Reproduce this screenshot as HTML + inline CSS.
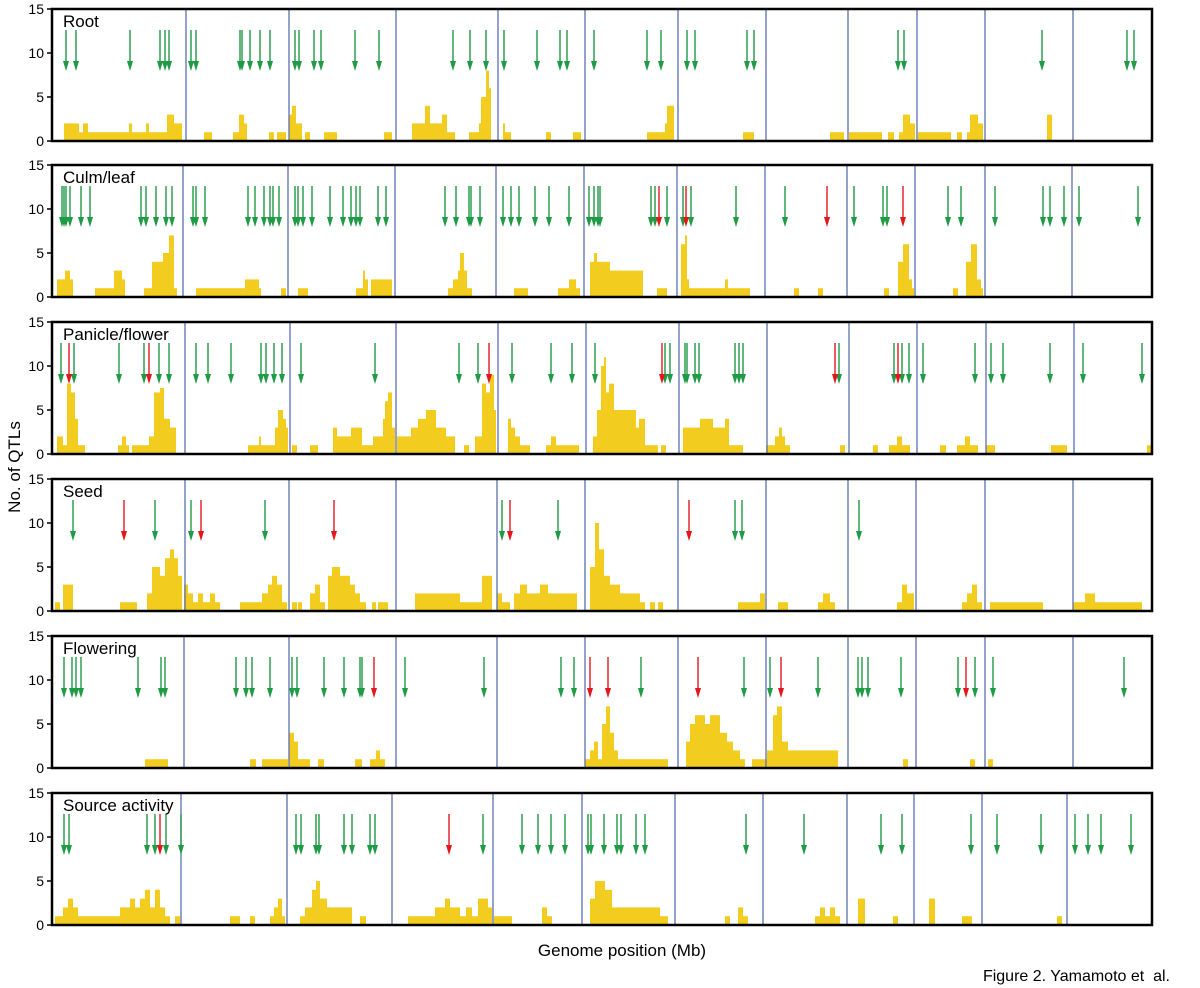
<!DOCTYPE html>
<html><head><meta charset="utf-8"><title>QTL distribution</title>
<style>
html,body{margin:0;padding:0;background:#fff;}
body{width:1200px;height:988px;overflow:hidden;font-family:"Liberation Sans",sans-serif;}
svg{display:block;}
text{font-family:"Liberation Sans",sans-serif;fill:#000;}
</style></head>
<body>
<svg id="chart" width="1200" height="988" xmlns="http://www.w3.org/2000/svg"></svg>
<script>
// ---- data (genome position units, QTL counts) ----
const panelTitles = ["Root","Culm/leaf","Panicle/flower","Seed","Flowering","Source activity"];
const yTicks = [0,5,10,15];
const yTickLabels = ["0","5","10","15"];

const chromBoundsRoot = [186,289,396,498,585,678,766,848,917,985,1073];
const chromBoundsCulm = [183,288,395,496,584,677,765,847,915,985,1072];
const chromBoundsPanicle = [185,290,396,498,586,679,767,849,917,986,1074];
const chromBoundsSeed = [185,289,396,497,585,678,766,848,916,985,1073];
const chromBoundsFlowering = [184,289,396,497,585,678,766,848,916,985,1073];
const chromBoundsSource = [181,287,392,493,582,675,763,847,914,982,1067];

const binsRoot = [[64,79,2],[79,83,1],[83,88,2],[88,129,1],[129,132,2],[132,146,1],[146,149,2],[149,167,1],[167,174,3],[174,182,2],
[204,212,1],[233,239,1],[239,244,3],[244,247,2],[269,274,1],[277,286,1],[289,292,3],[292,296,4],[296,302,2],[305,310,1],[324,337,1],[384,392,1],
[412,425,2],[425,430,4],[430,442,2],[442,447,3],[447,455,1],[469,479,1],[479,481,2],[481,486,5],[486,489,8],[489,491,6],
[503,505,2],[505,511,1],[546,551,1],[573,581,1],[647,665,1],[665,667,2],[667,674,4],[743,754,1],[830,844,1],[849,882,1],[888,894,1],
[899,903,1],[903,910,3],[910,915,2],[918,951,1],[957,962,1],[967,970,1],[970,978,3],[978,983,2],[1047,1052,3]];
const binsCulm = [[57,65,2],[65,70,3],[70,73,2],[95,114,1],[114,122,3],[122,125,2],[144,152,1],[152,163,4],[163,169,5],[169,174,7],[174,177,1],
[196,245,1],[245,259,2],[259,261,1],[281,286,1],[298,308,1],[356,363,1],[363,365,3],[365,368,2],[371,392,2],
[448,453,1],[453,458,2],[458,460,3],[460,464,5],[464,467,3],[467,472,1],[514,528,1],[558,569,1],[569,576,2],[576,580,1],
[590,594,4],[594,597,5],[597,602,4],[602,610,4],[610,643,3],[657,667,1],[681,685,6],[685,687,7],[687,689,2],[689,725,1],[725,728,2],[728,750,1],
[794,799,1],[818,823,1],[884,889,1],[898,903,4],[903,909,6],[909,912,2],[912,914,1],[953,958,1],[966,971,4],[971,977,6],[977,981,2],[981,983,1]];
const binsPanicle = [[57,63,2],[63,67,1],[67,71,8],[71,75,7],[75,78,4],[78,82,1],[82,85,1],[118,122,1],[122,126,2],[126,129,1],[132,149,1],[149,154,2],[154,160,7],[160,164,7.5],[164,170,4],[170,176,3],
[248,259,1],[259,261,2],[261,275,1],[275,278,3],[278,283,5],[283,286,4],[286,288,3],
[292,297,1],[310,318,1],[333,337,3],[337,351,2],[351,362,3],[362,373,1],[373,383,2],[383,385,4],[385,388,6],[388,392,7],[392,395,3],
[397,411,2],[411,418,3],[418,426,4],[426,436,5],[436,446,3],[446,455,2],[464,469,1],[475,482,2],[482,486,8],[486,490,7],[490,494,9],[494,496,5],
[508,511,4],[511,515,3],[515,520,2],[520,530,1],[546,551,1],[551,556,2],[556,579,1],[593,597,2],[597,601,5],[601,604,10],[604,606,11],[606,609,7],[609,614,8],[614,636,5],[636,639,3],[639,645,4],[645,658,1],[661,666,1],
[683,700,3],[700,713,4],[713,725,3],[725,729,4],[729,743,1],[766,775,1],[775,779,2],[779,782,3],[782,785,2],[785,790,1],[840,845,1],[873,878,1],
[889,897,1],[897,902,2],[902,910,1],[940,946,1],[957,965,1],[965,970,2],[970,978,1],[986,995,1],[1051,1067,1],[1147,1152,1]];
const binsSeed = [[55,60,1],[63,73,3],[120,137,1],[147,152,2],[152,160,5],[160,165,4],[165,170,6],[170,174,7],[174,178,6],[178,182,4],
[184,188,3],[188,193,2],[193,198,1],[198,203,2],[203,210,1],[210,215,2],[215,220,1],[240,262,1],[262,268,2],[268,272,3],[272,277,4],[277,282,3],[282,287,1],
[292,297,1],[298,302,1],[310,315,2],[315,320,3],[320,325,1],[328,332,4],[332,340,5],[340,350,4],[350,355,3],[355,360,2],[360,366,1],[372,376,1],[378,388,1],
[415,460,2],[460,482,1],[482,492,4],[497,502,2],[502,510,1],[514,520,2],[520,527,3],[527,540,2],[540,548,3],[548,577,2],
[590,595,5],[595,599,10],[599,604,7],[604,610,4],[610,620,3],[620,640,2],[640,645,1],[650,655,1],[658,663,1],[738,760,1],[760,765,2],[778,788,1],
[818,823,1],[823,830,2],[830,835,1],[897,902,1],[902,907,3],[907,914,2],[962,967,1],[967,972,2],[972,977,3],[977,982,1],[990,1043,1],[1073,1085,1],[1085,1095,2],[1095,1142,1]];
const binsFlowering = [[145,168,1],[250,256,1],[262,288,1],[289,294,4],[294,298,3],[298,305,1],[305,310,1],[318,324,1],[355,362,1],[370,376,1],[376,380,2],[380,385,1],
[585,590,1],[590,594,2],[594,598,3],[598,602,1],[602,606,5],[606,610,7],[610,614,4],[614,618,2],[618,668,1],
[686,690,3],[690,695,5],[695,705,6],[705,710,5],[710,720,6],[720,727,4],[727,733,3],[733,740,2],[740,745,1],[752,767,1],[767,773,2],[773,777,6],[777,782,7],[782,788,3],[788,838,2],
[903,908,1],[970,975,1],[988,993,1]];
const binsSource = [[55,63,1],[63,68,2],[68,73,3],[73,78,2],[78,120,1],[120,130,2],[130,135,3],[135,140,2],[140,145,3],[145,150,4],[150,155,2],[155,160,4],[160,165,2],[165,170,1],[175,180,1],
[230,240,1],[250,255,1],[270,274,1],[274,278,2],[278,282,3],[282,285,1],[300,305,1],[305,312,2],[312,316,4],[316,320,5],[320,327,3],[327,352,2],[360,366,1],
[408,435,1],[435,445,2],[445,450,3],[450,460,2],[460,466,1],[466,472,2],[472,478,1],[478,488,3],[488,492,2],[494,512,1],[542,547,2],[547,552,1],
[590,595,3],[595,605,5],[605,612,4],[612,660,2],[660,668,1],[725,730,1],[738,743,2],[743,748,1],[815,820,1],[820,825,2],[825,830,1],[830,835,2],[835,840,1],
[858,865,3],[893,898,1],[929,935,3],[962,972,1],[1057,1062,1]];

const greenRoot = [66,76,130,160,165,169,191,196,240,242,250,260,270,295,299,314,321,355,379,453,470,486,504,537,560,567,594,647,661,687,695,747,754,898,904,1042,1127,1134];
const redRoot = [];
const greenCulm = [62,64,66,70,81,90,141,146,156,166,172,193,196,205,248,255,264,270,273,279,295,298,303,312,330,343,351,356,360,378,386,445,456,469,471,480,503,511,519,535,549,569,589,594,598,600,651,655,667,683,691,736,785,854,883,887,948,961,995,1043,1050,1064,1079,1138];
const redCulm = [659,686,827,903];
const greenPanicle = [61,74,119,144,159,169,196,208,231,261,266,274,282,301,375,459,478,512,551,572,595,665,670,685,687,695,699,735,739,743,839,894,902,909,923,975,991,1003,1050,1083,1142];
const redPanicle = [69,149,489,662,835,898];
const greenSeed = [73,155,191,265,502,558,735,742,859];
const redSeed = [124,201,334,510,689];
const greenFlowering = [64,72,76,81,138,161,165,236,246,252,270,292,297,324,344,360,362,405,484,561,574,641,744,770,818,858,862,868,901,958,975,993,1124];
const redFlowering = [374,590,608,698,781,966];
const greenSource = [64,69,147,155,166,181,296,301,316,319,344,352,370,375,483,522,538,551,565,588,591,604,617,621,636,645,746,804,881,902,971,997,1041,1075,1088,1101,1131];
const redSource = [160,449];

// ---- layout ----
const NS = "http://www.w3.org/2000/svg";
const svg = document.getElementById("chart");
const X0 = 52, X1 = 1152, D0 = 52, D1 = 1152;
const panelTops = [9,165,322,479,636,793];
const panelH = 132;
const yMax = 15;
function xScale(v){ return X0 + (v - D0) * (X1 - X0) / (D1 - D0); }
function yScale(v, top){ return top + panelH - v * panelH / yMax; }
function mk(tag, attrs, parent){
  const e = document.createElementNS(NS, tag);
  for (const k in attrs) e.setAttribute(k, attrs[k]);
  (parent || svg).appendChild(e);
  return e;
}
const allBins = [binsRoot,binsCulm,binsPanicle,binsSeed,binsFlowering,binsSource];
const allBounds = [chromBoundsRoot,chromBoundsCulm,chromBoundsPanicle,chromBoundsSeed,chromBoundsFlowering,chromBoundsSource];
const allGreen = [greenRoot,greenCulm,greenPanicle,greenSeed,greenFlowering,greenSource];
const allRed = [redRoot,redCulm,redPanicle,redSeed,redFlowering,redSource];

panelTitles.forEach((title, i) => {
  const top = panelTops[i];
  const g = mk("g", {});
  
  
  // bars
  allBins[i].forEach(b => {
    const r = mk("rect", {x: xScale(b[0]), y: yScale(b[2], top), width: Math.max(0.5, xScale(b[1]) - xScale(b[0])), height: yScale(0, top) - yScale(b[2], top), fill: "#f2cd1f"}, g);
    
    
  });
  // chromosome boundaries
  allBounds[i].forEach(c => {
    const l = mk("line", {x1: xScale(c), x2: xScale(c), y1: top, y2: top + panelH, stroke: "#5b6fb0", "stroke-width": 1.3}, g);
    
    
  });
  // arrows
  function arrow(v, color, nm){
    const ax = xScale(v);
    const a = mk("g", {}, g);
    
    
    mk("line", {x1: ax, x2: ax, y1: top + 21, y2: top + 54, stroke: color, "stroke-width": 1.4}, a);
    mk("polygon", {points: (ax-3)+","+(top+52)+" "+(ax+3)+","+(top+52)+" "+ax+","+(top+62), fill: color}, a);
  }
  allGreen[i].forEach(v => arrow(v, "#1f9a45", "green-qtl-arrow"));
  allRed[i].forEach(v => arrow(v, "#e3161c", "red-qtl-arrow"));
  // frame
  const f = mk("rect", {x: X0, y: top, width: X1 - X0, height: panelH, fill: "none", stroke: "#000", "stroke-width": 2.5}, g);
  
  
  // y ticks
  yTicks.forEach((t, k) => {
    const yy = yScale(t, top);
    mk("line", {x1: X0 - 5, x2: X0, y1: yy, y2: yy, stroke: "#000", "stroke-width": 1.5}, g);
    const tx = mk("text", {x: X0 - 8, y: yy + 5, "font-size": 14, "text-anchor": "end"}, g);
    tx.textContent = yTickLabels[k];
    
    
  });
  const tt = mk("text", {x: 63, y: top + 18, "font-size": 17}, g);
  tt.textContent = title;
  
  
});

const yl = mk("text", {x: 0, y: 0, "font-size": 17, "text-anchor": "middle", transform: "translate(20,467) rotate(-90)"});
yl.textContent = "No. of QTLs";


const xl = mk("text", {x: 622, y: 956, "font-size": 17, "text-anchor": "middle"});
xl.textContent = "Genome position (Mb)";


const cap = mk("text", {x: 1170, y: 981, "font-size": 16, "text-anchor": "end"});
cap.textContent = "Figure 2. Yamamoto et\u00a0 al.";


</script>
</body></html>
